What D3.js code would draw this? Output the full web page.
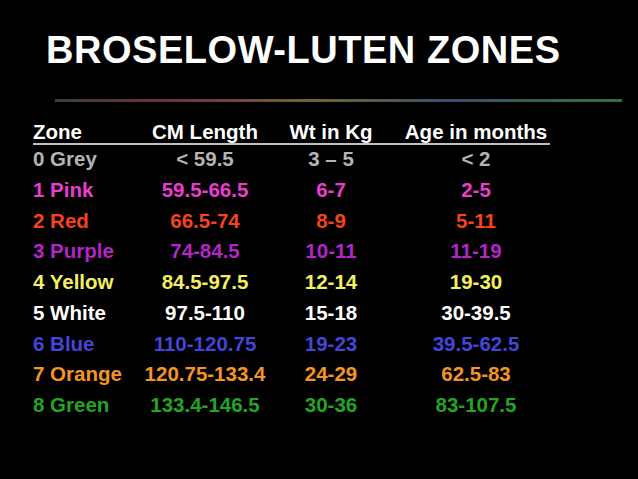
<!DOCTYPE html><html><head><meta charset="utf-8"><script src="https://cdn.jsdelivr.net/npm/d3@7"></script>
<style>body{margin:0;background:#000}text{font-family:"Liberation Sans",Arial,sans-serif;font-weight:bold}</style></head><body>
<svg id="c" width="638" height="479"></svg>
<script>
const headers=["Zone","CM Length","Wt in Kg","Age in months"];
const zones=["0 Grey","1 Pink","2 Red","3 Purple","4 Yellow","5 White","6 Blue","7 Orange","8 Green"];
const lengths=["< 59.5","59.5-66.5","66.5-74","74-84.5","84.5-97.5","97.5-110","110-120.75","120.75-133.4","133.4-146.5"];
const weights=["3 – 5","6-7","8-9","10-11","12-14","15-18","19-23","24-29","30-36"];
const ages=["< 2","2-5","5-11","11-19","19-30","30-39.5","39.5-62.5","62.5-83","83-107.5"];
const colors=["#b4b4b4","#ec3cd0","#f4441c","#b424c8","#f4f060","#ffffff","#4444d8","#f49424","#24a424"];
const svg=d3.select("#c");
svg.append("rect").attr("width",638).attr("height",479).attr("fill","#000");
svg.append("text").attr("x",46).attr("y",63).attr("fill","#fff").style("font-size","38px").attr("textLength",514).text("BROSELOW-LUTEN ZONES");
const g=svg.append("defs").append("linearGradient").attr("id","gr");
[["0","#555"],["0.2","#a04070"],["0.45","#a09040"],["0.7","#5070a0"],["1","#50a050"]].forEach(s=>g.append("stop").attr("offset",s[0]).attr("stop-color",s[1]));
svg.append("rect").attr("x",55).attr("y",99).attr("width",567).attr("height",3).attr("fill","url(#gr)").attr("opacity",0.7);
const y=d3.scalePoint().domain(d3.range(9)).range([166,412]);
const cols=[{x:33,a:"start"},{x:205,a:"middle"},{x:331,a:"middle"},{x:476,a:"middle"}];
headers.forEach((h,i)=>svg.append("text").attr("x",cols[i].x).attr("y",139).attr("text-anchor",cols[i].a).attr("fill","#fff").style("font-size","20.5px").text(h));
svg.append("line").attr("x1",33).attr("x2",550).attr("y1",144).attr("y2",144).attr("stroke","#fff").attr("stroke-width",1.5);
const data=[zones,lengths,weights,ages];
data.forEach((arr,c)=>svg.selectAll(null).data(arr).enter().append("text").attr("x",cols[c].x).attr("y",(d,i)=>y(i)).attr("text-anchor",cols[c].a).attr("fill",(d,i)=>colors[i]).style("font-size","20.5px").text(d=>d));
</script></body></html>
